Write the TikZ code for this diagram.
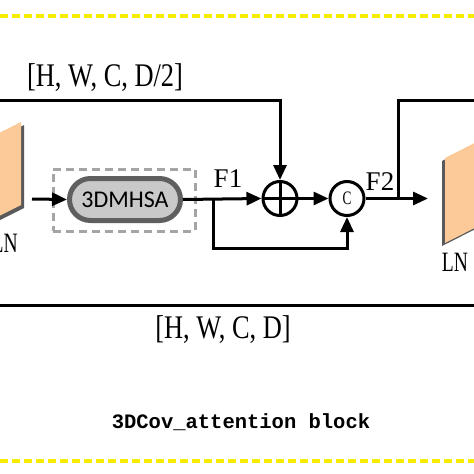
\documentclass[tikz,border=0pt]{standalone}
\usepackage{fontspec}
\setmainfont{Liberation Serif}
\newfontfamily\narrowserif[FakeStretch=0.8]{Liberation Serif}
\newfontfamily\narrowerserif[FakeStretch=0.7]{Liberation Serif}
\newfontfamily\calfont{Carlito}
\newfontfamily\monofont{Liberation Mono}
\usetikzlibrary{arrows.meta}
\definecolor{peach}{RGB}{252,201,152}
\definecolor{shadowgray}{RGB}{90,90,90}
\definecolor{yel}{RGB}{245,236,0}
\definecolor{pillfill}{RGB}{201,201,201}
\definecolor{pilledge}{RGB}{95,95,95}
\definecolor{boxgray}{RGB}{165,165,165}
\tikzset{
  wire/.style={line width=3pt, black},
  arr/.style={wire, -{Triangle[length=15pt,width=13pt]}},
  opcircle/.style={circle, draw, line width=3pt, minimum size=34pt, inner sep=0pt},
  yellowdash/.style={yel, line width=3.5pt, dash pattern=on 8pt off 4pt},
  dimlabel/.style={font=\narrowserif\fontsize{33}{36}\selectfont, inner sep=0pt},
  flabel/.style={font=\fontsize{27}{30}\selectfont, inner sep=0pt},
  lnlabel/.style={font=\narrowerserif\fontsize{28}{32}\selectfont, inner sep=0pt},
}
\begin{document}
\begin{tikzpicture}[x=1pt,y=-1pt]
\fill[white] (0,0) rectangle (474,474);
\clip (0,0) rectangle (474,474);
% yellow frame lines
\draw[yellowdash] (0,16) -- (474,16);
\draw[yellowdash] (0,461) -- (474,461);
% left LN panel
\fill[shadowgray] (-37,155.5) -- (24,125) -- (24,208) -- (-37,238.5) -- cycle;
\fill[peach] (-40,152.5) -- (21,122) -- (21,205) -- (-40,235.5) -- cycle;
% right LN panel
\fill[shadowgray] (442,161) -- (517,123) -- (517,208) -- (442,246) -- cycle;
\fill[peach] (445,158) -- (520,120) -- (520,205) -- (445,243) -- cycle;
% labels
\node[lnlabel, anchor=east] (nL) at (18,243) {LN};
\node[lnlabel] (nR) at (455,262) {LN};
\node[dimlabel] (dimhalf) at (105,78) {[H, W, C, D/2]};
\node[dimlabel] (dimfull) at (223,330) {[H, W, C, D]};
\node[font=\monofont\bfseries\fontsize{20.5}{24}\selectfont, inner sep=0pt] (title) at (241,422) {3DCov\_attention block};
% 3DMHSA block
\node[draw=boxgray, dash pattern=on 8pt off 5pt, line width=3pt, minimum width=142pt, minimum height=62pt, inner sep=0pt] (dbox) at (124,200) {};
\node[draw=pilledge, fill=pillfill, line width=5pt, rounded corners=21pt, minimum width=111pt, minimum height=42pt, inner sep=0pt, font=\calfont\fontsize{24}{26}\selectfont] (pill) at (125,199.5) {3DMHSA};
% operators
\node[opcircle] (plus) at (280,198.5) {};
\draw[wire] (plus.north) -- (plus.south) (plus.west) -- (plus.east);
\node[opcircle, font=\narrowerserif\fontsize{19}{22}\selectfont] (cat) at (347,198.5) {C};
\node[flabel] (f1) at (228,179) {F1};
\node[flabel] (f2) at (380,182) {F2};
% coordinates
\coordinate (lnLout) at (32,199);
\coordinate (br) at (213,198.5);
\coordinate (brlow) at (213,248);
\coordinate (topL) at (0,100);
\coordinate (lnRin) at (428,198.5);
\coordinate (loopx) at (398,198.5);
\coordinate (topR) at (474,100);
\coordinate (botL) at (0,305);
\coordinate (botR) at (474,305);
% connectors
\draw[arr] (lnLout) -- (pill.west);
\draw[arr] (pill.east) -- (plus.west);
\draw[arr] (br) -- (brlow) -| (cat.south);
\draw[arr] (topL) -| (plus.north);
\draw[arr] (plus.east) -- (cat.west);
\draw[arr] (cat.east) -- (lnRin);
\draw[wire] (loopx) |- (topR);
\draw[wire] (botL) -- (botR);
\end{tikzpicture}
\end{document}
